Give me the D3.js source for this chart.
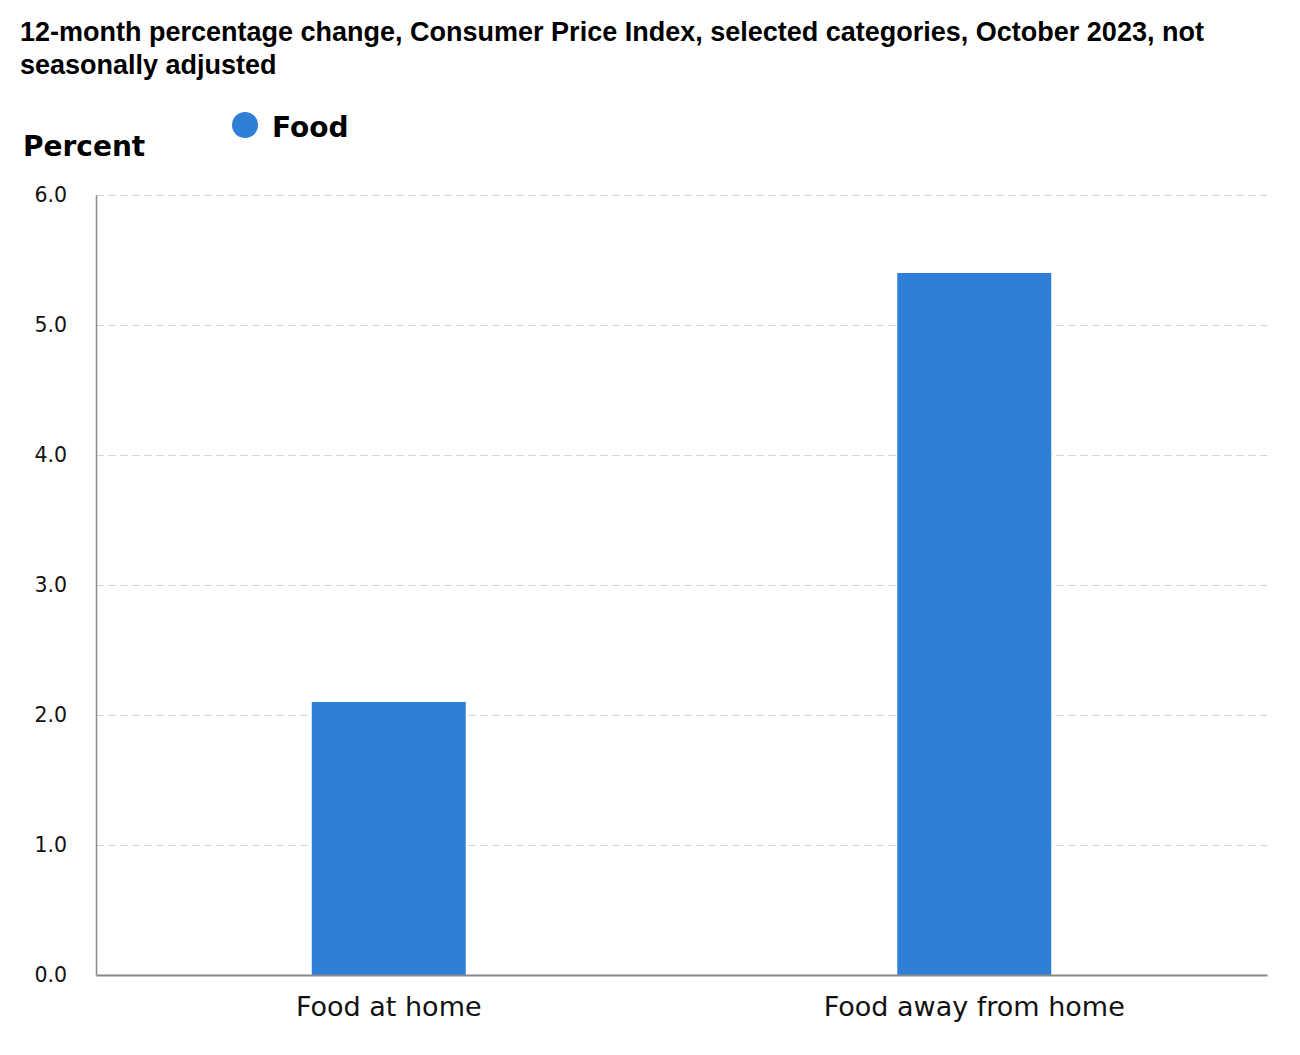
<!DOCTYPE html>
<html>
<head>
<meta charset="utf-8">
<script src="https://cdn.jsdelivr.net/npm/d3@7"></script>
<style>
  body { margin: 0; background: #fff; }
  .title { font-family: "Liberation Sans", Arial, sans-serif; font-weight: bold; font-size: 27px; fill: #000; }
  .label { font-family: "DejaVu Sans", Verdana, sans-serif; }
  .grid line { stroke: #d4d4d4; stroke-dasharray: 8,4; }
  .grid path { display: none; }
</style>
</head>
<body>
<svg width="1300" height="1055"></svg>
<script>
var categories = ["Food at home", "Food away from home"];
var values = [2.1, 5.4];
var seriesName = "Food";
var y_ticks_values = [0, 1, 2, 3, 4, 5, 6];

var margin = {top: 195, right: 33, bottom: 80, left: 96},
    width = 1300 - margin.left - margin.right,
    height = 1055 - margin.top - margin.bottom;

var svg = d3.select("svg");

svg.append("text").attr("class", "title").attr("x", 20).attr("y", 41)
    .text("12-month percentage change, Consumer Price Index, selected categories, October 2023, not");
svg.append("text").attr("class", "title").attr("x", 20).attr("y", 74)
    .text("seasonally adjusted");

// legend
svg.append("circle").attr("cx", 245).attr("cy", 125).attr("r", 13).attr("fill", "#2f7ed8");
svg.append("text").attr("class", "label").attr("x", 272).attr("y", 137)
    .style("font-size", "28px").style("font-weight", "bold").text(seriesName);

svg.append("text").attr("class", "label").attr("x", 23).attr("y", 156)
    .style("font-size", "28px").style("font-weight", "bold").text("Percent");

var g = svg.append("g").attr("transform", "translate(" + margin.left + "," + margin.top + ")");

var xScale = d3.scaleBand().domain(categories).range([0, width]).padding(0),
    yScale = d3.scaleLinear().domain([0, 6]).range([height, 0]);

var barW = xScale.bandwidth() * 0.263;

// grid
g.append("g").attr("class", "grid")
    .call(d3.axisLeft(yScale).tickValues(y_ticks_values.slice(1)).tickSize(-width).tickFormat(""));

// bars
g.selectAll(".bar")
    .data(values)
  .enter().append("rect")
    .attr("class", "bar")
    .attr("x", (d, i) => xScale(categories[i]) + (xScale.bandwidth() - barW) / 2)
    .attr("width", barW)
    .attr("y", d => yScale(d))
    .attr("height", d => height - yScale(d))
    .attr("fill", "#2f7ed8");

// y axis
var yAxis = g.append("g")
    .call(d3.axisLeft(yScale).tickValues(y_ticks_values).tickSize(0).tickPadding(29).tickFormat(d3.format(".1f")));
yAxis.select(".domain").attr("stroke", "#888").attr("stroke-width", 1.5);
yAxis.selectAll("text").attr("class", "label").style("font-size", "20.5px").attr("fill", "#111");

// x axis
var xAxis = g.append("g").attr("transform", "translate(0," + height + ")")
    .call(d3.axisBottom(xScale).tickSize(0).tickPadding(22));
xAxis.select(".domain").attr("stroke", "#888").attr("stroke-width", 2);
xAxis.selectAll("text").attr("class", "label").style("font-size", "27px").attr("fill", "#111");
</script>
</body>
</html>
